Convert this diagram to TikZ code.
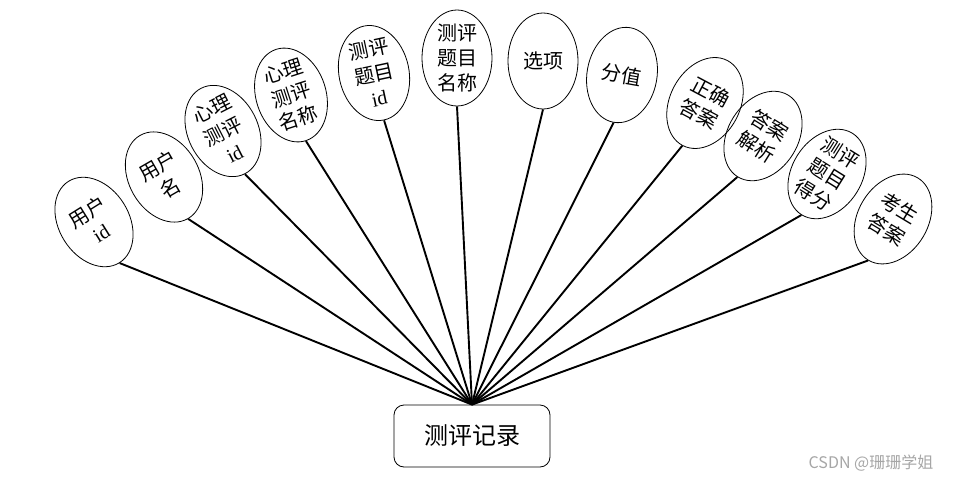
\documentclass[tikz,border=0pt]{standalone}
\usepackage{fontspec}
\setmainfont{Liberation Serif}
\newfontfamily\cjk{Noto Sans CJK SC}
\usetikzlibrary{shapes.geometric}
\tikzset{
  attr/.style={draw, ellipse, line width=0.8pt, minimum width=70pt, minimum height=96pt, inner sep=0pt},
  lbl/.style={align=center, inner sep=0pt, font=\fontsize{20}{25}\selectfont},
  link/.style={line width=1.9pt},
  entity/.style={draw, rounded corners=10pt, line width=0.8pt, minimum width=156pt, minimum height=62pt, font=\cjk\fontsize{24}{28}\selectfont},
}
\begin{document}
\begin{tikzpicture}[x=1pt, y=-1pt]
\useasboundingbox (0,0) rectangle (956,482);
\node[entity] (rec) at (472,436) {测评记录};
\foreach \n/\x/\y/\r/\t in {
  e1/94/222/32/{{\cjk 用户}\\id},
  e2/164/177/30/{{\cjk 用户}\\{\cjk 名}},
  e3/223/131/27/{{\cjk 心理}\\{\cjk 测评}\\id},
  e4/291/95/18/{{\cjk 心理}\\{\cjk 测评}\\{\cjk 名称}},
  e5/374/73/12/{{\cjk 测评}\\{\cjk 题目}\\id},
  e6/457/58/0/{{\cjk 测评}\\{\cjk 题目}\\{\cjk 名称}},
  e7/543/61/0/{{\cjk 选项}},
  e8/622/75/-10/{{\cjk 分值}},
  e9/705/103/-28/{{\cjk 正确}\\{\cjk 答案}},
  e10/763/136/-32/{{\cjk 答案}\\{\cjk 解析}},
  e11/827/174/-32/{{\cjk 测评}\\{\cjk 题目}\\{\cjk 得分}},
  e12/893/219/-31/{{\cjk 考生}\\{\cjk 答案}}}
{
  \node[attr, rotate=\r] (\n) at (\x,\y) {};
  \node[lbl, rotate=\r] (t\n) at (\n.center) {\t};
  \draw[link] (\n.south) -- (rec.north);
}
\node[text=gray!70, font=\cjk\fontsize{16}{18}\selectfont] (wm) at (871,463) {CSDN @珊珊学姐};
\end{tikzpicture}
\end{document}
